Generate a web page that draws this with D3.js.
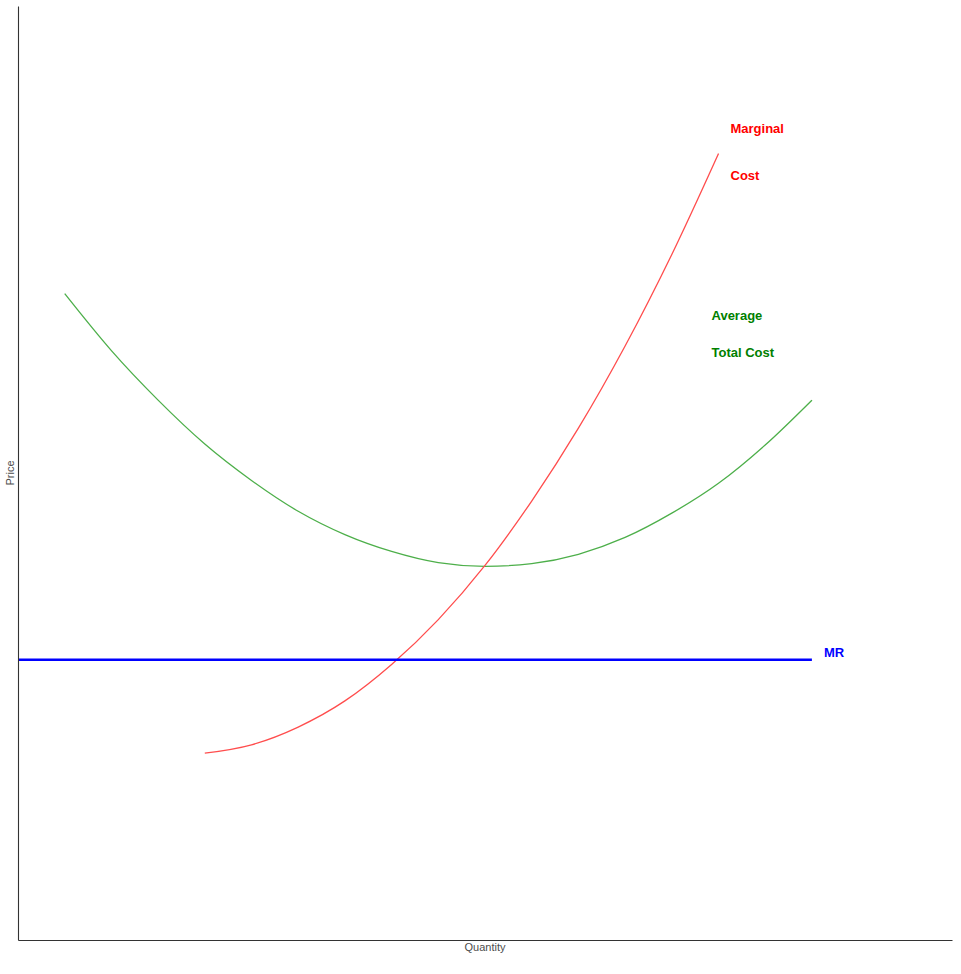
<!DOCTYPE html>
<html>
<head>
<meta charset="utf-8">
<script src="https://cdn.jsdelivr.net/npm/d3@7"></script>
<style>
  html, body { margin: 0; padding: 0; background: #fff; }
  svg { display: block; font-family: "Liberation Sans", Arial, sans-serif; }
</style>
</head>
<body>
<svg id="chart" width="961" height="974"></svg>
<script>
// Data (quantity, price)
const mcQuantity = [2, 2.5, 3, 3.5, 4, 4.5, 5, 5.5, 6, 6.5, 7, 7.5];
const mcPrice    = [2.00, 2.09, 2.28, 2.56, 2.95, 3.43, 4.01, 4.70, 5.48, 6.36, 7.34, 8.42];
const atcQuantity = [0.5, 1, 1.5, 2, 2.5, 3, 3.5, 4, 4.5, 5, 5.5, 6, 6.5, 7, 7.5, 8, 8.5];
const atcPrice    = [6.92, 6.31, 5.78, 5.31, 4.92, 4.59, 4.34, 4.16, 4.04, 4.00, 4.03, 4.13, 4.31, 4.57, 4.89, 5.30, 5.78];
const mrQuantity = [0, 8.5];
const mrPrice    = [3, 3];
const xDomain = [0, 10];
const yDomain = [0, 10];
const xTitle = "Quantity";
const yTitle = "Price";

const svg = d3.select("#chart");
const x = d3.scaleLinear().domain(xDomain).range([18, 952]);
const y = d3.scaleLinear().domain(yDomain).range([940, 6]);

const line = d3.line().x(d => x(d[0])).y(d => y(d[1])).curve(d3.curveMonotoneX);

const mc = mcQuantity.map((q, i) => [q, mcPrice[i]]);
const atc = atcQuantity.map((q, i) => [q, atcPrice[i]]);
const mr = mrQuantity.map((q, i) => [q, mrPrice[i]]);

svg.append("path").datum(atc).attr("d", line)
  .attr("fill", "none").attr("stroke", "#4daf4a").attr("stroke-width", 1.3);
svg.append("path").datum(mc).attr("d", line)
  .attr("fill", "none").attr("stroke", "#ff4d4d").attr("stroke-width", 1.3);
svg.append("path").datum(mr).attr("d", d3.line().x(d => x(d[0])).y(d => y(d[1])))
  .attr("fill", "none").attr("stroke", "#0000ff").attr("stroke-width", 2.5);

// Axes (no ticks)
const xAxis = d3.axisBottom(x).tickValues([]).tickSizeOuter(0);
const yAxis = d3.axisLeft(y).tickValues([]).tickSizeOuter(0);
svg.append("g").attr("transform", "translate(0,940)").call(xAxis)
  .select(".domain").attr("stroke", "#333").attr("stroke-width", 1.1);
svg.append("g").attr("transform", "translate(18,0)").call(yAxis)
  .select(".domain").attr("stroke", "#333").attr("stroke-width", 1.1);

svg.append("text").attr("x", 485).attr("y", 951).attr("text-anchor", "middle")
  .attr("font-size", 11).attr("fill", "#4d4d4d").text(xTitle);
svg.append("text").attr("transform", "translate(14,473) rotate(-90)")
  .attr("text-anchor", "middle").attr("font-size", 11).attr("fill", "#4d4d4d").text(yTitle);

// Curve labels
const labels = [
  {t: "Marginal", q: 7.5, p: 8.42, dx: 12, dy: -21, c: "#ff0000"},
  {t: "Cost", q: 7.5, p: 8.42, dx: 12, dy: 26, c: "#ff0000"},
  {t: "Average", q: 7.5, p: 6.65, dx: -7, dy: 1, c: "#008000"},
  {t: "Total Cost", q: 7.5, p: 6.65, dx: -7, dy: 38, c: "#008000"},
  {t: "MR", q: 8.5, p: 3, dx: 12, dy: -3, c: "#0000ff"}
];
svg.selectAll("text.lbl").data(labels).join("text").attr("class", "lbl")
  .attr("x", d => x(d.q) + d.dx).attr("y", d => y(d.p) + d.dy)
  .attr("font-size", 13).attr("font-weight", "bold").attr("fill", d => d.c)
  .text(d => d.t);
</script>
</body>
</html>
